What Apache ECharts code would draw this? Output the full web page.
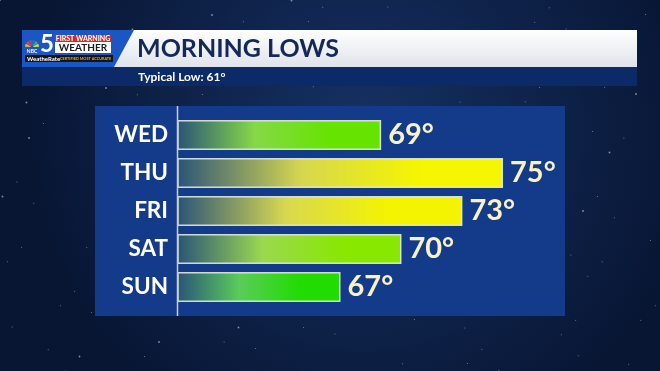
<!DOCTYPE html>
<html><head><meta charset="utf-8">
<script src="https://cdn.jsdelivr.net/npm/echarts@6/dist/echarts.min.js"></script>
<style>html,body{margin:0;padding:0;background:#0b1a3c}#c{width:660px;height:371px}</style>
</head><body><div id="c"></div>
<script>
const days = ['WED','THU','FRI','SAT','SUN'];
const lows = [69, 75, 73, 70, 67];
const barColors = ['#66e400','#f6f600','#f4f400','#88e800','#22dc00'];
const midColors = ['#86d848','#d6d650','#d8d850','#9ad850','#5acc5a'];
const title = 'MORNING LOWS';
const subtitle = 'Typical Low: 61\u00b0';

const chart = echarts.init(document.getElementById('c'), null, {renderer:'canvas'});
const F = 'Lato, "Open Sans", sans-serif';

const stars = [];
for (let i = 0; i < 140; i++) {
  const x = (i * 137.3) % 660, y = (i * 71.7 + (i % 7) * 23) % 371;
  stars.push({type:'circle', shape:{cx:x, cy:y, r:(i%5===0)?0.9:0.5}, style:{fill:'rgba(255,255,255,0.5)'}, silent:true, z:-9});
}
const peacock = ['#f6b21b','#ef3e33','#7c52a1','#1b75bc','#2ab573','#fcd116'];

chart.setOption({
  backgroundColor: {type:'radial', x:0.55, y:0.35, r:0.9, colorStops:[{offset:0,color:'#163163'},{offset:1,color:'#081634'}]},
  animation:false,
  grid:{left:178, right:96, top:116, bottom:65},
  xAxis:{type:'value', min:59, max:78, show:false},
  yAxis:{type:'category', data:days, inverse:true, axisLine:{show:false}, axisTick:{show:false},
    axisLabel:{color:'#ffffff', fontFamily:F, fontWeight:'bold', fontSize:22.5, margin:10}},
  series:[{
    type:'bar', barWidth:30, z:5,
    data: lows.map((v,i)=>({value:v, itemStyle:{
      color:{type:'linear', x:0, y:0, x2:1, y2:0, colorStops:[
        {offset:0, color:'#2a5478'},
        {offset:0.38, color:midColors[i]},
        {offset:0.75, color:barColors[i]},
        {offset:1, color:barColors[i]}]},
      borderColor:'rgba(225,235,220,0.9)', borderWidth:1.5}})),
    label:{show:true, position:'right', distance:7, formatter:'{c}\u00b0', color:'#f8f2c4',
      fontFamily:F, fontWeight:'bold', fontSize:29}
  }],
  graphic:[
    ...stars,
    {type:'rect', shape:{x:95, y:106, width:470, height:210}, style:{fill:'#143a8a'}, z:-5, silent:true},
    {type:'line', shape:{x1:177.5, y1:106, x2:177.5, y2:316}, style:{stroke:'#c8d0e0', lineWidth:1.5}, z:6, silent:true},
    // header
    {type:'rect', shape:{x:22, y:67, width:615, height:19}, style:{fill:'#0d2a68'}, z:1, silent:true},
    {type:'rect', shape:{x:22, y:30, width:615, height:37},
      style:{fill:{type:'linear', x:0, y:0, x2:0, y2:1, colorStops:[{offset:0,color:'#ffffff'},{offset:1,color:'#dfe3ea'}]}}, z:1, silent:true},
    {type:'polygon', shape:{points:[[22,30],[134,30],[114,67],[22,67]]}, style:{fill:'#1a57c4'}, z:2, silent:true},
    {type:'text', style:{x:137, y:49, text:title, fill:'#15285a', font:'bold 25px '+F, textVerticalAlign:'middle'}, z:3, silent:true},
    {type:'text', style:{x:138, y:77, text:subtitle, fill:'#ffffff', font:'bold 12px '+F, textVerticalAlign:'middle'}, z:3, silent:true},
    // logo
    ...peacock.map((c,k)=>({type:'sector', shape:{cx:32, cy:47, r0:1.5, r:7, startAngle:Math.PI + k*Math.PI/6 + 0.05, endAngle:Math.PI + (k+1)*Math.PI/6 - 0.05}, style:{fill:c}, z:3, silent:true})),
    {type:'text', style:{x:32, y:51, text:'NBC', fill:'#ffffff', font:'bold 5px '+F, textAlign:'center', textVerticalAlign:'middle'}, z:4, silent:true},
    {type:'text', style:{x:47, y:44, text:'5', fill:'#ffffff', font:'bold 24px '+F, textAlign:'center', textVerticalAlign:'middle'}, z:3, silent:true},
    {type:'rect', shape:{x:55, y:35, width:56, height:7}, style:{fill:'#d12a2a'}, z:3, silent:true},
    {type:'text', style:{x:83, y:38.7, text:'FIRST WARNING', fill:'#ffffff', font:'bold 7px '+F, textAlign:'center', textVerticalAlign:'middle'}, z:4, silent:true},
    {type:'rect', shape:{x:55, y:42, width:56, height:11}, style:{fill:'#ffffff'}, z:3, silent:true},
    {type:'text', style:{x:83, y:47.8, text:'WEATHER', fill:'#1a1a1a', font:'bold 10px '+F, textAlign:'center', textVerticalAlign:'middle'}, z:4, silent:true},
    {type:'rect', shape:{x:25, y:55, width:88, height:7}, style:{fill:'#141414'}, z:3, silent:true},
    {type:'text', style:{x:27, y:58.6, text:'WeatheRate', fill:'#ffffff', font:'bold 6px '+F, textVerticalAlign:'middle'}, z:4, silent:true},
    {type:'text', style:{x:60, y:58.6, text:'CERTIFIED MOST ACCURATE', fill:'#d8b040', font:'bold 3.8px '+F, textVerticalAlign:'middle'}, z:4, silent:true}
  ]
});
</script></body></html>
